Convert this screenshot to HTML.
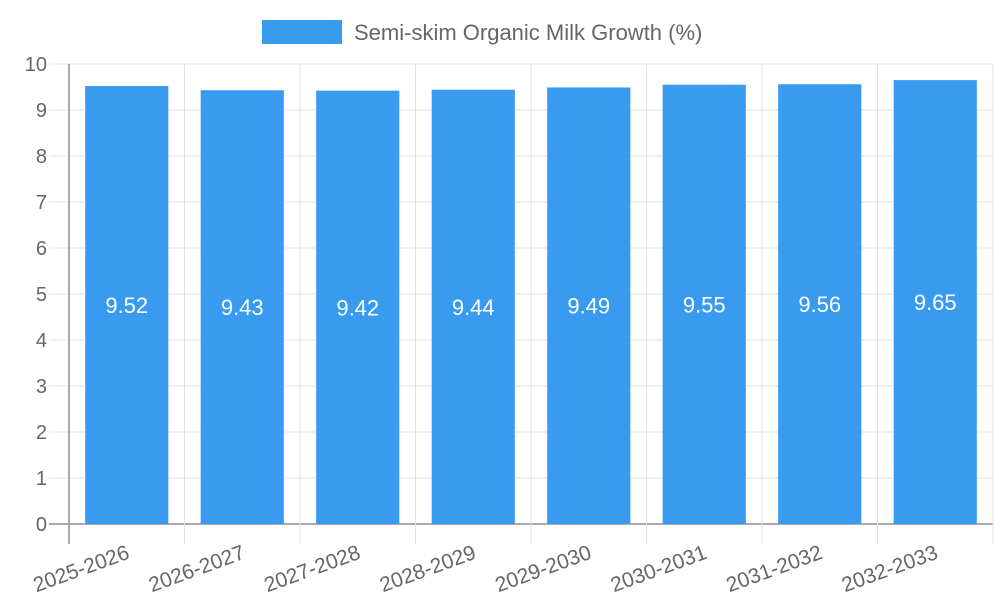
<!DOCTYPE html>
<html><head><meta charset="utf-8"><style>
body{margin:0;background:#fff;}
svg{display:block;font-family:"Liberation Sans",sans-serif;}
</style></head><body>
<svg id="chart" width="1000" height="600">
<g>
<rect x="262" y="20" width="80" height="24" fill="#389bf0"></rect>
<text x="354" y="40" font-size="22" fill="#666">Semi-skim Organic Milk Growth (%)</text>
</g>
<g id="grid"></g><g id="bars"></g><g id="labels"></g>
</svg>
<script>
const categories=["2025-2026","2026-2027","2027-2028","2028-2029","2029-2030","2030-2031","2031-2032","2032-2033"];
const values=[9.52,9.43,9.42,9.44,9.49,9.55,9.56,9.65];
const yTicks=[0,1,2,3,4,5,6,7,8,9,10];
const NS="http://www.w3.org/2000/svg";
const x0=69,x1=993,yBase=524,yTop=64,yMax=10;
const cw=(x1-x0)/categories.length;
const y=v=>yBase-(v/yMax)*(yBase-yTop);
const xc=i=>x0+cw*(i+0.5);
function mk(t,a,p){const e=document.createElementNS(NS,t);for(const k in a)e.setAttribute(k,a[k]);p.appendChild(e);return e;}
const grid=document.getElementById('grid'),bars=document.getElementById('bars'),labels=document.getElementById('labels');
yTicks.forEach(t=>{
 const l=mk('line',{x1:49,x2:x1,y1:y(t),y2:y(t),stroke:t===0?'#aaa':'#e0e0e0','stroke-width':t===0?2:1},grid);
 
 
 const tx=mk('text',{x:47,y:y(t)+7,'text-anchor':'end','font-size':20,fill:'#666'},grid);
 tx.textContent=t;
 
 
});
for(let i=0;i<=categories.length;i++){
 const gx=x0+cw*i;
 const l=mk('line',{x1:gx,x2:gx,y1:yTop,y2:544,stroke:i===0?'#aaa':'#e0e0e0','stroke-width':i===0?2:1},grid);
 
 
}
const bw=cw*0.72;
categories.forEach((c,i)=>{
 const r=mk('rect',{x:xc(i)-bw/2,y:y(values[i]),width:bw,height:yBase-y(values[i]),fill:'#389bf0'},bars);
 
 
 const v=mk('text',{x:xc(i),y:(y(values[i])+yBase)/2+8,'text-anchor':'middle','font-size':22,fill:'#fff'},labels);
 v.textContent=values[i].toFixed(2);
 
 
 const t=mk('text',{x:xc(i)+4,y:558,'text-anchor':'end','font-size':21,fill:'#666',transform:`rotate(-20 ${xc(i)+4} 558)`},labels);
 t.textContent=c;
 
 
});
</script>
</body></html>
